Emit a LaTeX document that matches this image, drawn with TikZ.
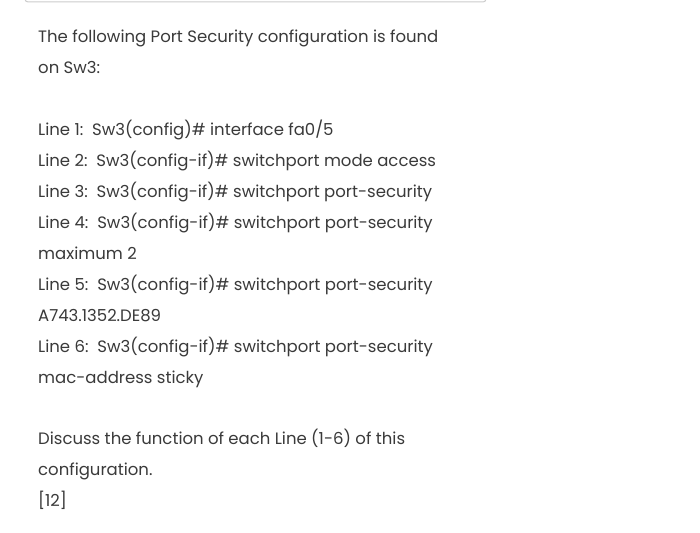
\documentclass[tikz,border=0pt]{standalone}
\usepackage{fontspec}
\setmainfont{Poppins}
\definecolor{txt}{HTML}{3A3A3A}
\begin{document}
\begin{tikzpicture}[x=1pt,y=-1pt,
  t/.style={anchor=base west,inner sep=0pt,text=txt,font=\fontsize{16.5}{18}\selectfont}]
\useasboundingbox (0,0) rectangle (700,532);
\fill[white] (0,0) rectangle (700,532);
\draw[gray!40,line width=1pt,rounded corners=3pt] (25,-10) -- (25,2) -- (486,2) -- (486,-10);
\node[t] (a) at (38,43) {The following Port Security configuration is found};
\node[t] (b) at (38,74) {on Sw3:};
\node[t] (l1) at (38,135) {Line 1:\ \ Sw3(config)\# interface fa0/5};
\node[t] (l2) at (38,166) {Line 2:\ \ Sw3(config-if)\# switchport mode access};
\node[t] (l3) at (38,197) {Line 3:\ \ Sw3(config-if)\# switchport port-security};
\node[t] (l4) at (38,228) {Line 4:\ \ Sw3(config-if)\# switchport port-security};
\node[t] (l4b) at (38,259) {maximum 2};
\node[t] (l5) at (38,290) {Line 5:\ \ Sw3(config-if)\# switchport port-security};
\node[t] (l5b) at (38,321) {A743.1352.DE89};
\node[t] (l6) at (38,352) {Line 6:\ \ Sw3(config-if)\# switchport port-security};
\node[t] (l6b) at (38,383) {mac-address sticky};
\node[t] (d1) at (38,444) {Discuss the function of each Line (1-6) of this};
\node[t] (d2) at (38,475) {configuration.};
\node[t] (d3) at (38,506) {[12]};
\end{tikzpicture}
\end{document}
